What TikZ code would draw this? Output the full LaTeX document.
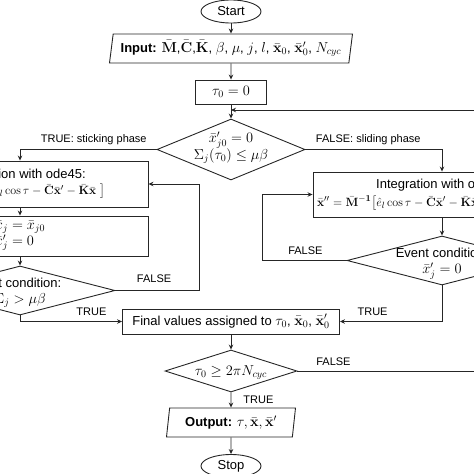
\documentclass[tikz,border=0pt]{standalone}
\usepackage{amsmath}
\usepackage{bm}
\usepackage[no-math]{fontspec}
\setmainfont{Liberation Sans}
\usetikzlibrary{shapes, shapes.geometric, arrows.meta}
\DeclareMathSizes{13}{14}{10}{7}

% 菱形内文字（不撑大形状）
\newcommand{\dtext}[2][-3pt]{\raisebox{#1}[0pt][0pt]{\makebox[0pt]{\begin{tabular}{@{}c@{}}#2\end{tabular}}}}
\newcommand{\odeform}{{\fontsize{12.95}{16}\selectfont$\bar{\mathbf{x}}'' = \bar{\mathbf{M}}^{-\mathbf{1}}\bigl[\hat{e}_l \cos\tau - \bar{\mathbf{C}}\bar{\mathbf{x}}' - \bar{\mathbf{K}}\bar{\mathbf{x}}\ \bigr]$}}

\begin{document}
\begin{tikzpicture}[x=1pt, y=-1pt,
  font=\fontsize{13}{16}\selectfont,
  flowline/.style={draw=black!85, line width=0.9pt},
  flowarrow/.style={flowline, -{Stealth[length=5pt, width=4.5pt]}},
  term/.style={ellipse, flowline, minimum width=60pt, minimum height=23pt, inner sep=0pt},
  io/.style={trapezium, trapezium left angle=77, trapezium right angle=103, trapezium stretches body, flowline, minimum height=29pt, inner sep=0pt},
  proc/.style={rectangle, flowline, inner sep=0pt, align=center},
  cond/.style={diamond, flowline, inner sep=0pt},
  lbl/.style={font=\fontsize{11}{13}\selectfont, inner sep=0pt}]

\useasboundingbox (0,0) rectangle (474,474);
\clip (0,0) rectangle (474,474);

% 开始与输入
\node[term] (start) at (231,11.5) {Start};
\node[io, minimum width=243pt] (input) at (231,48.5) {\textbf{Input:} $\bar{\mathbf{M}}$,$\bar{\mathbf{C}}$,$\bar{\mathbf{K}}$, $\beta$, $\mu$, $j$, $l$, $\bar{\mathbf{x}}_0$, $\bar{\mathbf{x}}'_0$, $N_{cyc}$};
\node[proc, minimum width=71pt, minimum height=24pt] (init) at (231,92) {$\tau_0 = 0$};
\coordinate (merge) at (231,110);

% 粘滞 / 滑动判断
\node[cond, minimum width=148pt, minimum height=61pt] (stick) at (231,149.5) {\dtext[-2pt]{$\bar{x}'_{j0} = 0$\\ $\Sigma_j(\tau_0) \le \mu\beta$}};

% 左列：粘滞阶段
\node[proc, minimum width=256pt, minimum height=46pt] (odeL) at (20,184) {Integration with ode45:\\ \odeform};
\node[proc, minimum width=256pt, minimum height=40pt, align=left] (holdL) at (20,236) {$\bar{x}_j = \bar{x}_{j0}$\\ $\bar{x}'_j = 0$};
\node[cond, minimum width=190pt, minimum height=49pt] (eventL) at (20,290.5) {\dtext[-5pt]{Event condition:\hspace*{10pt}\\ $\Sigma_j > \mu\beta$}};

% 右列：滑动阶段
\node[proc, minimum width=258pt, minimum height=45pt] (odeR) at (442,194.5) {Integration with ode45:\\[2pt] \odeform\hspace*{80pt}};
\node[cond, minimum width=190pt, minimum height=49pt] (eventR) at (442,260.5) {\dtext[-6pt]{Event condition:\\ $\bar{x}'_j = 0$}};

% 结束部分
\node[proc, minimum width=217pt, minimum height=25pt] (final) at (231,321.5) {Final values assigned to $\tau_0$, $\bar{\mathbf{x}}_0$, $\bar{\mathbf{x}}'_0$};
\node[cond, minimum width=132pt, minimum height=42pt] (endcheck) at (231,371) {\dtext[-5pt]{$\tau_0 \ge 2\pi N_{cyc}$}};
\node[io, minimum width=129pt] (output) at (231,422.5) {\textbf{Output:} $\tau, \bar{\mathbf{x}}, \bar{\mathbf{x}}'$};
\node[term] (stop) at (231,466) {Stop};

% 连线
\draw[flowarrow] (start) -- (input);
\draw[flowarrow] (input) -- (init);
\draw[flowarrow] (init) -- (stick);
\draw[flowarrow] (stick.west) -| node[lbl, pos=0.23, above=4pt] {TRUE: sticking phase} (odeL);
\draw[flowarrow] (stick.east) -| node[lbl, pos=0.23, above=4pt] {FALSE: sliding phase} (odeR);
\draw[flowarrow] (odeL) -- (holdL);
\draw[flowarrow] (holdL) -- (eventL);
\draw[flowarrow] (odeR) -- (eventR);
\draw[flowarrow] (eventL.east) -- node[lbl, pos=0.46, above=7pt] {FALSE} ++(84,0) |- (odeL.east);
\draw[flowarrow] (eventR.west) -- node[lbl, pos=0.49, above=5pt] {FALSE} ++(-84,0) |- (odeR.west);
\draw[flowarrow] (eventL.south) |- node[lbl, pos=0.85, above=5pt] {TRUE} (final.west);
\draw[flowarrow] (eventR.south) |- node[lbl, pos=0.84, above=5pt] {TRUE} (final.east);
\draw[flowarrow] (final) -- (endcheck);
\draw[flowarrow] (endcheck) -- node[lbl, right=12pt] {TRUE} (output);
\draw[flowarrow] (endcheck.east) -- node[lbl, pos=0.18, above=5pt] {FALSE} ++(200,0) |- (merge);
\draw[flowarrow] (output) -- (stop);
\end{tikzpicture}
\end{document}
